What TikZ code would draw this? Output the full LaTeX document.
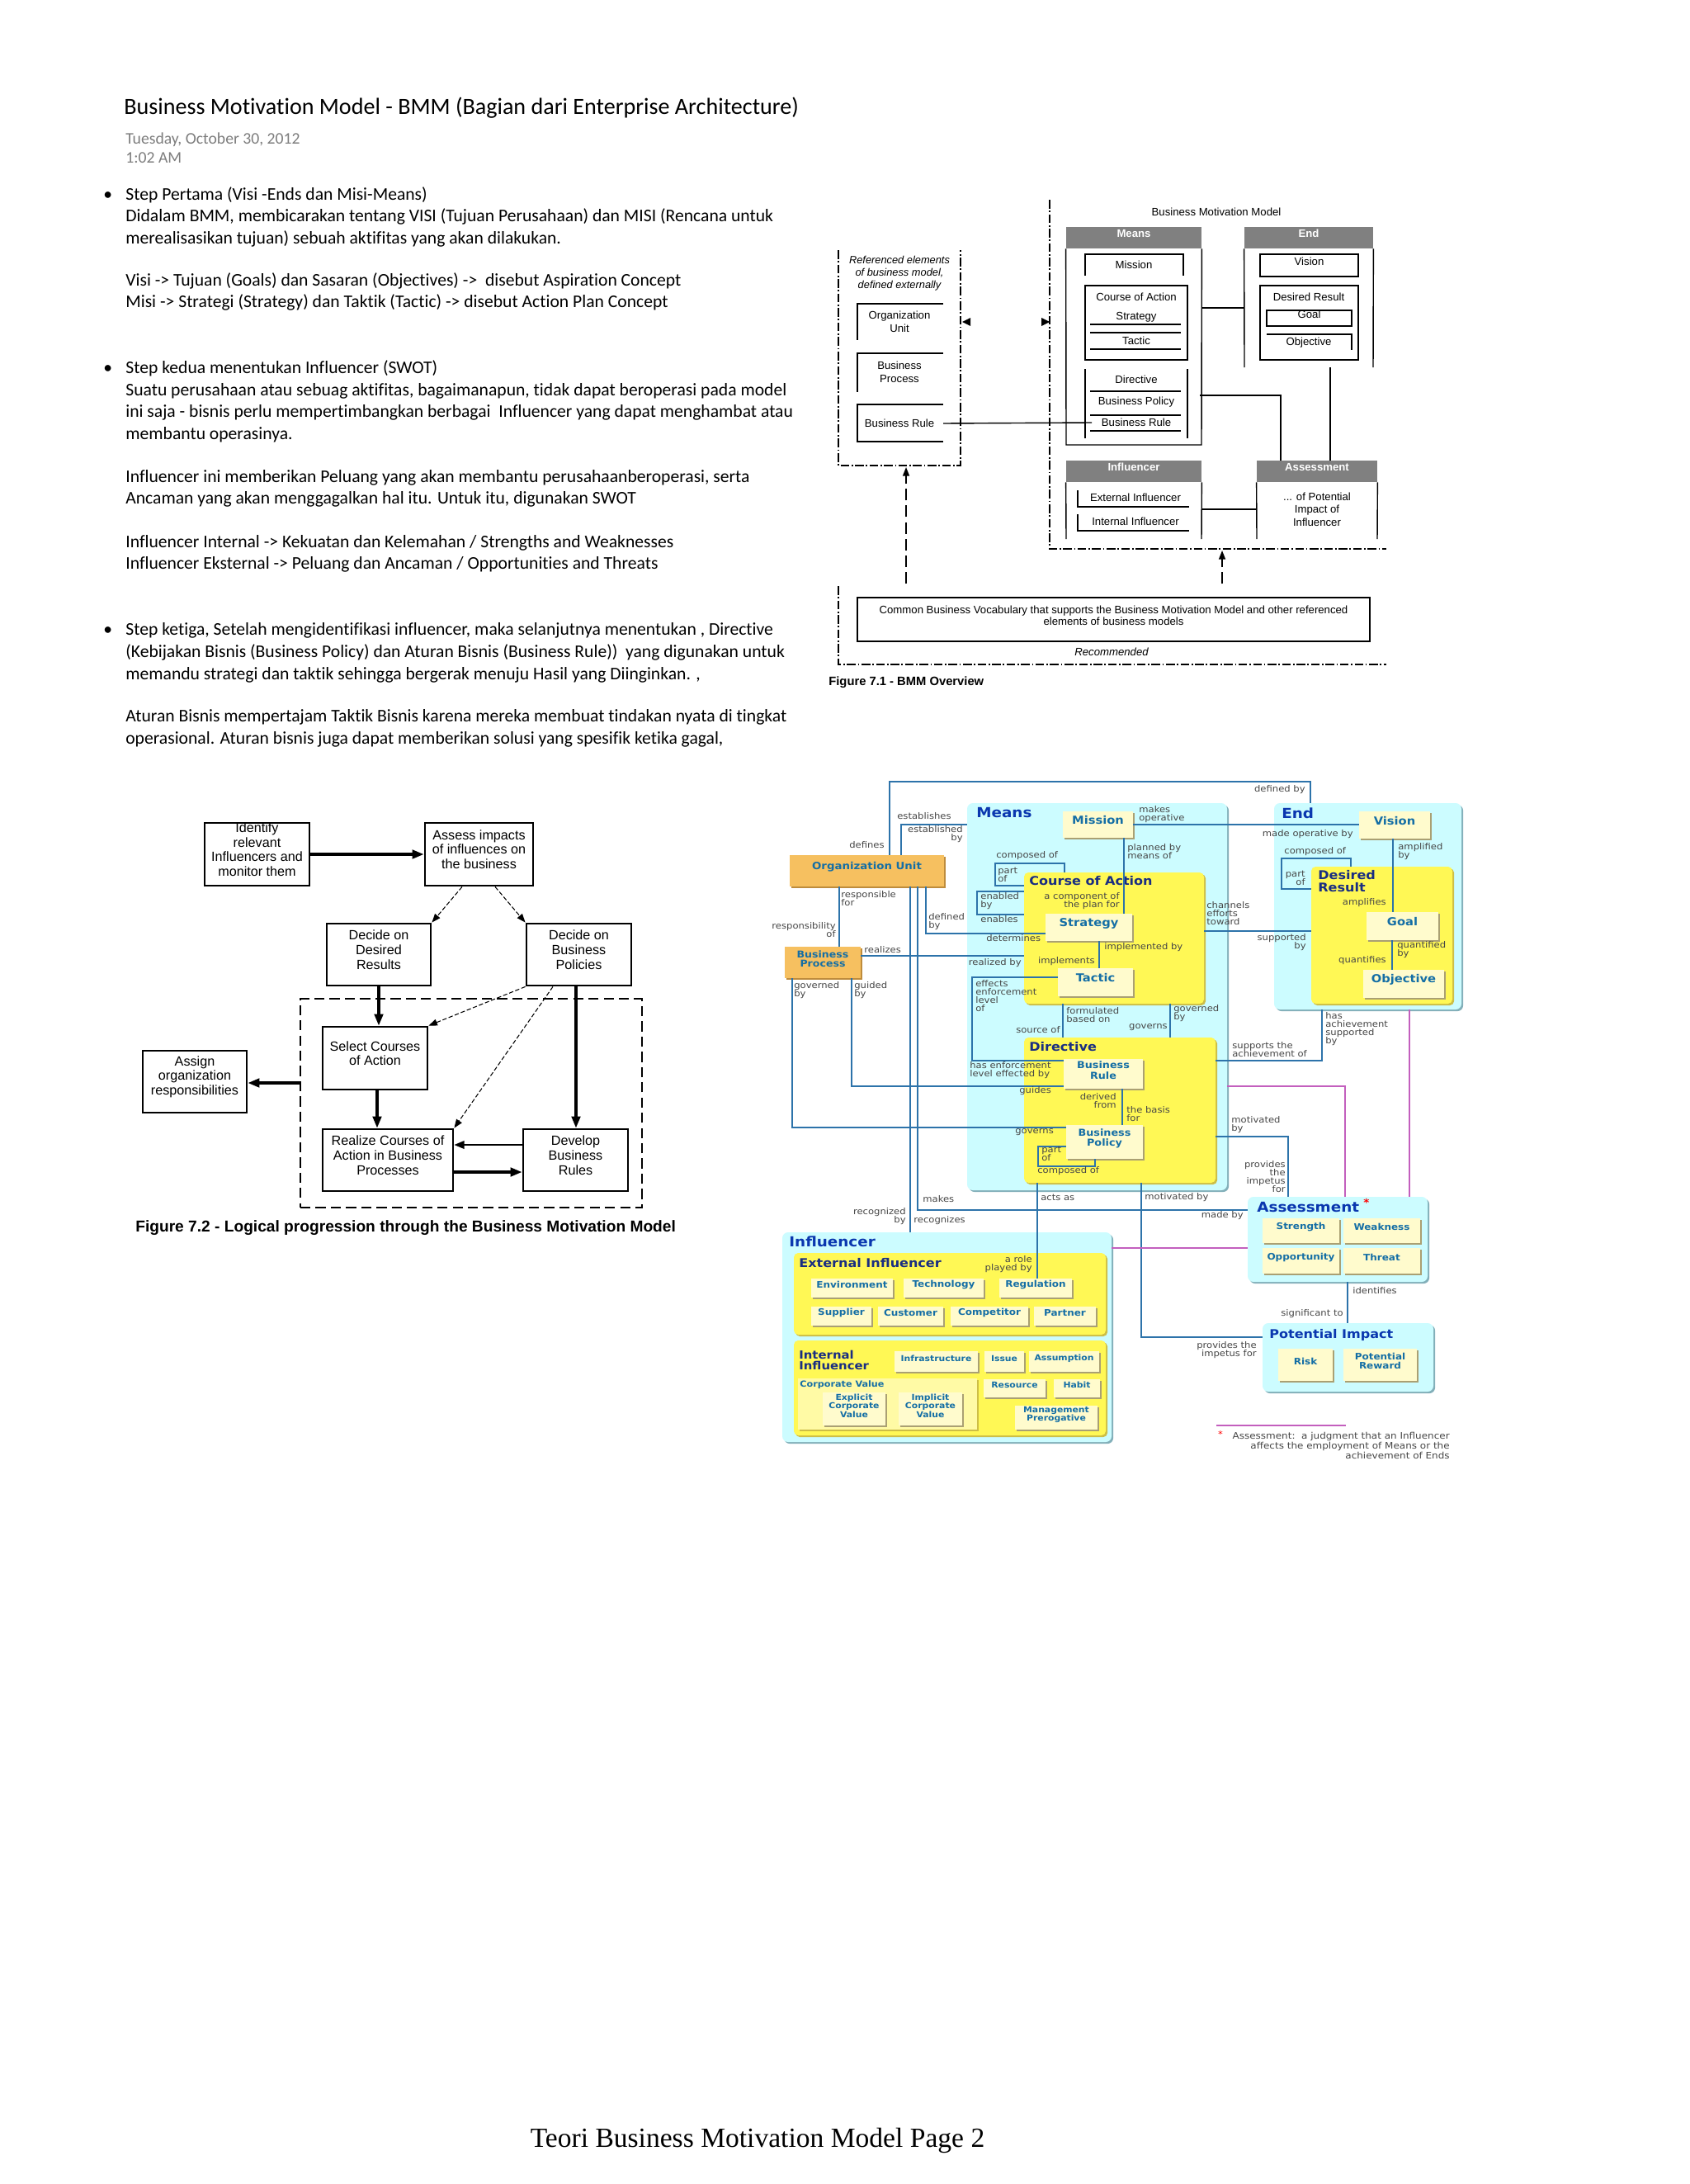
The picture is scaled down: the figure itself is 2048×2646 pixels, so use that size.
\documentclass[tikz,border=0pt]{standalone}
\usepackage{fontspec}
\setmainfont{Carlito}[Ligatures=NoCommon]
\newfontfamily\arialfont{Liberation Sans}
\newfontfamily\timesfont{Liberation Serif}
\newfontfamily\comicfont[FakeStretch=1.1]{DejaVu Sans}
\newcommand\lblfont{\comicfont\fontsize{6}{5.7}\selectfont\lineskiplimit=-5pt\relax}
\usepackage{tikz}
\usetikzlibrary{arrows.meta,positioning,fit,shadows}
\definecolor{cyanbox}{RGB}{204,252,255}
\definecolor{cyanshd}{RGB}{130,175,185}
\definecolor{yelbox}{RGB}{255,248,85}
\definecolor{yelshd}{RGB}{205,190,70}
\definecolor{crmbox}{RGB}{255,251,205}
\definecolor{crmshd}{RGB}{170,160,115}
\definecolor{cpvbox}{RGB}{255,250,165}
\definecolor{orgbox}{RGB}{246,192,96}
\definecolor{orgshd}{RGB}{190,140,60}
\definecolor{lnblue}{RGB}{45,115,170}
\definecolor{ttlblue}{RGB}{10,55,175}
\definecolor{navyt}{RGB}{25,45,130}
\definecolor{txtblue}{RGB}{20,110,165}
\definecolor{lblgray}{RGB}{70,70,70}
\definecolor{magline}{RGB}{195,95,190}
\definecolor{hdrgray}{RGB}{128,128,128}
\definecolor{dategray}{RGB}{125,125,125}
\begin{document}
\begin{tikzpicture}[x=0.2mm,y=-0.2mm,
  ln/.style={anchor=mid west,inner sep=0pt,font=\fontsize{12.3}{14}\selectfont},
  ttl/.style={ln,font=\fontsize{16}{18}\selectfont},
  dt/.style={ln,text=dategray,font=\fontsize{11.2}{13}\selectfont},
  ov/.style={inner sep=0pt,align=center,font=\arialfont\fontsize{7.5}{8.8}\selectfont},
  ohd/.style={inner sep=0pt,fill=hdrgray,text=white,font=\arialfont\bfseries\fontsize{7.5}{8}\selectfont},
  ol/.style={line width=0.8pt},
  odd/.style={line width=0.6pt,dash pattern=on 6pt off 1.5pt on 1pt off 1.5pt},
  oda/.style={line width=0.8pt,dash pattern=on 8pt off 3.5pt,-{Triangle[length=6pt,width=4.5pt]}},
  fb/.style={draw,line width=1.6pt,inner sep=0pt,align=center,font=\arialfont\fontsize{9.2}{10}\selectfont},
  fa/.style={-{Triangle[length=8pt,width=6pt]},line width=1.8pt},
  fd/.style={-{Triangle[length=6pt,width=4.5pt]},line width=0.6pt,dash pattern=on 3pt off 1.5pt},
  grp/.style={inner sep=0pt,rounded corners=4pt,fill=cyanbox,drop shadow={shadow xshift=1.2pt,shadow yshift=-1.2pt,fill=cyanshd,opacity=1}},
  ylw/.style={inner sep=0pt,rounded corners=3pt,fill=yelbox,drop shadow={shadow xshift=1.2pt,shadow yshift=-1.2pt,fill=yelshd,opacity=1}},
  crm/.style={inner sep=0pt,fill=crmbox,text=txtblue,align=left,font=\comicfont\bfseries\fontsize{7.6}{8}\selectfont,drop shadow={shadow xshift=1pt,shadow yshift=-1pt,fill=crmshd,opacity=1}},
  sml/.style={crm,font=\comicfont\bfseries\fontsize{6.2}{6.2}\selectfont},
  org/.style={crm,fill=orgbox,drop shadow={shadow xshift=1pt,shadow yshift=-1pt,fill=orgshd,opacity=1}},
  gt/.style={inner sep=0pt,anchor=west,align=left,text=ttlblue,font=\comicfont\bfseries\fontsize{9.5}{10}\selectfont},
  yt/.style={gt,text=navyt,font=\comicfont\bfseries\fontsize{8.3}{8.5}\selectfont},
  lb/.style={inner sep=0pt,anchor=west,align=left,text=lblgray,font=\lblfont},
  lr/.style={lb,anchor=east,align=right},
  cn/.style={draw=lnblue,line width=0.9pt},
  mg/.style={draw=magline,line width=0.9pt}
]
\fill[white] (0,0) rectangle (2048,2646);
\useasboundingbox (0,0) rectangle (2048,2646);

\node[ttl] (hd) at (150,134) {Business Motivation Model - BMM (Bagian dari Enterprise Architecture)};
\node[dt] (dte) at (152,170) {Tuesday, October 30, 2012};
\node[dt] (tme) at (152,193) {1:02 AM};
\node[ln] (bl1) at (125,238) {•};
\node[ln] (t1) at (152,238) {Step Pertama (Visi -Ends dan Misi-Means)};
\node[ln] (t2) at (152,264) {Didalam BMM, membicarakan tentang VISI (Tujuan Perusahaan) dan MISI (Rencana untuk};
\node[ln] (t3) at (152,291) {merealisasikan tujuan) sebuah aktifitas yang akan dilakukan.};
\node[ln] (t4) at (152,342) {Visi -> Tujuan (Goals) dan Sasaran (Objectives) ->\ \ disebut Aspiration Concept};
\node[ln] (t5) at (152,368) {Misi -> Strategi (Strategy) dan Taktik (Tactic) -> disebut Action Plan Concept};
\node[ln] (bl2) at (125,448) {•};
\node[ln] (t6) at (152,448) {Step kedua menentukan Influencer (SWOT)};
\node[ln] (t7) at (152,475) {Suatu perusahaan atau sebuag aktifitas, bagaimanapun, tidak dapat beroperasi pada model};
\node[ln] (t8) at (152,501) {ini saja - bisnis perlu mempertimbangkan berbagai\ \ Influencer yang dapat menghambat atau};
\node[ln] (t9) at (152,528) {membantu operasinya.};
\node[ln] (t10) at (152,580) {Influencer ini memberikan Peluang yang akan membantu perusahaanberoperasi, serta};
\node[ln] (t11) at (152,606) {Ancaman yang akan menggagalkan hal itu. Untuk itu, digunakan SWOT};
\node[ln] (t12) at (152,659) {Influencer Internal -> Kekuatan dan Kelemahan / Strengths and Weaknesses};
\node[ln] (t13) at (152,685) {Influencer Eksternal -> Peluang dan Ancaman / Opportunities and Threats};
\node[ln] (bl3) at (125,765) {•};
\node[ln] (t14) at (152,765) {Step ketiga, Setelah mengidentifikasi influencer, maka selanjutnya menentukan , Directive};
\node[ln] (t15) at (152,792) {(Kebijakan Bisnis (Business Policy) dan Aturan Bisnis (Business Rule))\ \ yang digunakan untuk};
\node[ln] (t16) at (152,819) {memandu strategi dan taktik sehingga bergerak menuju Hasil yang Diinginkan. ,};
\node[ln] (t17) at (152,870) {Aturan Bisnis mempertajam Taktik Bisnis karena mereka membuat tindakan nyata di tingkat};
\node[ln] (t18) at (152,897) {operasional. Aturan bisnis juga dapat memberikan solusi yang spesifik ketika gagal,};

\draw[odd] (1016,303) -- (1016,564) -- (1164,564) -- (1164,303);
\draw[odd] (1016,710) -- (1016,805) -- (1680,805);
\draw[odd] (1272,242) -- (1272,665) -- (1680,665);
\node[ov,font=\arialfont\itshape\fontsize{7.3}{8.5}\selectfont] (oref) at (1090,331) {Referenced elements\\of business model,\\defined externally};
\draw[ol] (1143,368) -- (1039,368) -- (1039,412);
\node[ov] (oou) at (1090,390) {Organization\\Unit};
\draw[ol] (1143,428) -- (1039,428) -- (1039,475);
\node[ov] (obp) at (1090,451) {Business\\Process};
\draw[ol] (1143,490) -- (1039,490) -- (1039,535) -- (1143,535);
\node[ov] (obr) at (1090,513) {Business Rule};
\fill (1166,390) -- (1176,385) -- (1176,395) -- cycle;
\fill (1272,390) -- (1262,385) -- (1262,395) -- cycle;
\node[ov] (obmm) at (1474,257) {Business Motivation Model};
\node[ohd,fit={(1292,275)(1456,301)}] (mhd) {Means};
\draw[ol] (mhd.south west) -- (1292,539) -- (1456,539) -- (mhd.south east);
\draw[ol] (1315,334) -- (1315,308) -- (1434,308) -- (1434,334);
\node[ov] (omis) at (1374,321) {Mission};
\draw[ol] (1315,346) rectangle (1439,436);
\node[ov] (ocoa) at (1377,360) {Course of Action};
\node[ov] (ostr) at (1377,384) {Strategy};
\draw[ol] (1321,393) -- (1431,393) (1321,403) -- (1431,403) (1321,423) -- (1431,423);
\node[ov] (otac) at (1377,413) {Tactic};
\draw[ol] (1315,447) -- (1315,531) (1439,447) -- (1439,531);
\node[ov] (odir) at (1377,460) {Directive};
\draw[ol] (1321,474) -- (1431,474) (1321,503) -- (1431,503) (1321,522) -- (1431,522);
\node[ov] (obpo) at (1377,487) {Business Policy};
\node[ov] (mbr) at (1377,512) {Business Rule};
\node[ohd,fit={(1508,275)(1664,301)}] (ehd) {End};
\draw[ol] (ehd.south west) -- (1508,445) (ehd.south east) -- (1664,445);
\node[ov,draw,line width=0.8pt,fit={(1527,308)(1646,335)}] (ovis) {Vision};
\draw[ol] (1527,346) rectangle (1646,436);
\node[ov] (odr) at (1586,360) {Desired Result};
\node[ov,draw,line width=0.8pt,fit={(1535,376)(1638,395)}] (ogl) {Goal};
\draw[ol] (1535,405) -- (1638,405) -- (1638,424);
\node[ov] (oobj) at (1586,415) {Objective};
\draw[ol] (mhd.south east |- 0,373) -- (ehd.south west |- 0,373);
\node[ohd,fit={(1292,558)(1456,584)}] (ihd) {Influencer};
\draw[ol] (ihd.south west) -- (1292,653) (ihd.south east) -- (1456,653);
\draw[ol] (1306,594) -- (1306,614) -- (1441,614) (1306,623) -- (1306,643) -- (1441,643);
\node[ov] (oext) at (1376,603) {External Influencer};
\node[ov] (oint) at (1376,632) {Internal Influencer};
\node[ohd,fit={(1523,558)(1669,584)}] (ahd) {Assessment};
\draw[ol] (ahd.south west) -- (1523,653) (ahd.south east) -- (1669,653);
\node[ov] (opot) at (1596,617) {... of Potential\\Impact of\\Influencer};
\draw[ol] (obr.east -| 1143,0) -- (mbr.west -| 1323,0);
\draw[ol] (1454,479) -- (1552,479) -- (ahd.north -| 1552,0);
\draw[ol] (1612,445) -- (ahd.north -| 1612,0);
\draw[ol] (1456,617) -- (ahd.south west |- 0,617);
\node[ov,draw,line width=0.8pt,fit={(1039,724)(1660,777)},font=\arialfont\fontsize{7.5}{8}\selectfont] (cbv) {Common Business Vocabulary that supports the Business Motivation Model and other referenced\\elements of business models};
\coordinate (refb) at (1098,566);
\coordinate (bmmb) at (1481,667);
\draw[oda] ([yshift=3.2mm]cbv.north -| refb) -- (refb);
\draw[oda] ([yshift=3.2mm]cbv.north -| bmmb) -- (bmmb);
\node[ov,font=\arialfont\itshape\fontsize{7.5}{8}\selectfont] (orec) at (1347,790) {Recommended};
\node[inner sep=0pt,anchor=west,font=\arialfont\bfseries\fontsize{8.4}{10}\selectfont] (cap1) at (1004,827) {Figure 7.1 - BMM Overview};

\node[fb,fit={(248,997)(375,1073)}] (idf) {Identify\\relevant\\Influencers and\\monitor them};
\node[fb,fit={(515,997)(646,1073)}] (asi) {Assess impacts\\of influences on\\the business};
\node[fb,fit={(396,1119)(522,1194)}] (ddr) {Decide on\\Desired\\Results};
\node[fb,fit={(638,1119)(765,1194)}] (dbp) {Decide on\\Business\\Policies};
\node[fb,fit={(391,1244)(518,1320)}] (sca) {Select Courses\\of Action};
\node[fb,fit={(391,1368)(549,1443)}] (rca) {Realize Courses of\\Action in Business\\Processes};
\node[fb,fit={(634,1368)(761,1443)}] (dbr) {Develop\\Business\\Rules};
\node[fb,fit={(173,1273)(299,1348)}] (aor) {Assign\\organization\\responsibilities};
\node[draw,line width=1.6pt,dash pattern=on 7pt off 3.5pt,inner sep=0pt,fit={(364,1210)(778,1463)}] (frm) {};
\draw[fa] (idf.east) -- (asi.west);
\draw[fd] (asi.south -| 560,0) -- (ddr.north east);
\draw[fd] (asi.south -| 600,0) -- (dbp.north west);
\draw[fa] (ddr.south -| 459,0) -- (sca.north -| 459,0);
\draw[fd] (dbp.south west) -- (sca.north east);
\draw[fd] (dbp.south -| 670,0) -- (rca.north east);
\draw[fa] (dbp.south -| 698,0) -- (dbr.north -| 698,0);
\draw[fa] (sca.south -| 457,0) -- (rca.north -| 457,0);
\draw[-{Triangle[length=7pt,width=5.5pt]},line width=1.1pt] (dbr.west |- 0,1387) -- (rca.east |- 0,1387);
\draw[fa] (rca.east |- 0,1420) -- (dbr.west |- 0,1420);
\draw[fa] (frm.west |- 0,1312) -- (aor.east |- 0,1312);
\node[inner sep=0pt,anchor=west,font=\arialfont\bfseries\fontsize{10.9}{12}\selectfont] (cap2) at (164,1488) {Figure 7.2 - Logical progression through the Business Motivation Model};

\node[grp,fit={(1172,973)(1487,1442)}] (means) {};
\node[grp,fit={(1544,973)(1771,1223)}] (endg) {};
\node[grp,fit={(948,1493)(1347,1747)}] (infl) {};
\node[grp,fit={(1512,1450)(1730,1553)}] (asm) {};
\node[grp,fit={(1530,1603)(1737,1686)}] (pim) {};
\node[ylw,fit={(1241,1057)(1459,1216)}] (coa) {};
\node[ylw,fit={(1241,1257)(1473,1433)}] (dir) {};
\node[ylw,fit={(1589,1050)(1760,1216)}] (dr) {};
\node[ylw,fit={(962,1518)(1340,1617)}] (exi) {};
\node[ylw,fit={(962,1624)(1340,1739)}] (ini) {};
\node[ylw,fill=cpvbox,rounded corners=0pt,fit={(967,1670)(1184,1732)}] (cpv) {};

\node[gt] (tmeans) at (1183,985) {Means};
\node[gt] (tend) at (1553,985) {End};
\node[yt] (tcoa) at (1247,1067) {Course of Action};
\node[yt] (tdir) at (1247,1268) {Directive};
\node[yt] (tdr) at (1597,1068) {Desired\\Result};
\node[gt] (tinfl) at (956,1504) {Influencer};
\node[yt] (texi) at (968,1530) {External Influencer};
\node[yt,font=\comicfont\bfseries\fontsize{7.7}{7.4}\selectfont] (tini) at (968,1648) {Internal\\Influencer};
\node[lb,text=txtblue,font=\comicfont\bfseries\fontsize{5.8}{6}\selectfont] (tcpv) at (969,1678) {Corporate Value};
\node[gt] (tasm) at (1523,1463) {Assessment};
\node[inner sep=0pt,text=red,font=\comicfont\bfseries\fontsize{7}{7}\selectfont] (star) at (1656,1457) {*};
\node[gt,font=\comicfont\bfseries\fontsize{8.3}{9}\selectfont] (tpim) at (1538,1617) {Potential Impact};

\node[org,font=\comicfont\bfseries\fontsize{6.9}{7}\selectfont,text width=32.6mm,fit={(957,1036)(1144,1074)}] (ou) {Organization Unit};
\node[org,font=\comicfont\bfseries\fontsize{6.5}{6.6}\selectfont,text width=14.4mm,fit={(951,1147)(1043,1185)}] (bp) {Business\\Process};
\node[crm,fit={(1288,983)(1373,1015)}] (mis) {Mission};
\node[crm,fit={(1267,1107)(1372,1140)}] (str) {Strategy};
\node[crm,fit={(1282,1173)(1373,1207)}] (tac) {Tactic};
\node[crm,font=\comicfont\bfseries\fontsize{6.6}{7}\selectfont,text width=15.6mm,fit={(1289,1283)(1385,1319)}] (br) {Business\\Rule};
\node[crm,font=\comicfont\bfseries\fontsize{6.6}{7}\selectfont,text width=15mm,fit={(1292,1363)(1385,1404)}] (bpo) {Business\\Policy};
\node[crm,fit={(1647,983)(1733,1016)}] (vis) {Vision};
\node[crm,fit={(1656,1105)(1743,1139)}] (goal) {Goal};
\node[crm,fit={(1652,1175)(1750,1209)}] (obj) {Objective};
\node[sml,fit={(983,1549)(1082,1572)}] (env) {Environment};
\node[sml,fit={(1095,1549)(1192,1572)}] (tec) {Technology};
\node[sml,fit={(1211,1549)(1299,1572)}] (reg) {Regulation};
\node[sml,fit={(983,1583)(1056,1606)}] (sup) {Supplier};
\node[sml,fit={(1064,1583)(1143,1606)}] (cus) {Customer};
\node[sml,fit={(1152,1583)(1246,1606)}] (cmp) {Competitor};
\node[sml,fit={(1253,1583)(1328,1606)}] (par) {Partner};
\node[sml,font=\comicfont\bfseries\fontsize{5.6}{6}\selectfont,fit={(1084,1637)(1185,1662)}] (ifr) {Infrastructure};
\node[sml,font=\comicfont\bfseries\fontsize{5.6}{6}\selectfont,fit={(1193,1637)(1241,1662)}] (iss) {Issue};
\node[sml,font=\comicfont\bfseries\fontsize{5.6}{6}\selectfont,fit={(1247,1637)(1332,1662)}] (asu) {Assumption};
\node[sml,font=\comicfont\bfseries\fontsize{5.6}{5.9}\selectfont,fit={(997,1687)(1073,1727)}] (ecv) {Explicit\\Corporate\\Value};
\node[sml,font=\comicfont\bfseries\fontsize{5.6}{5.9}\selectfont,fit={(1089,1687)(1166,1727)}] (icv) {Implicit\\Corporate\\Value};
\node[sml,font=\comicfont\bfseries\fontsize{5.6}{6}\selectfont,fit={(1192,1671)(1267,1693)}] (res) {Resource};
\node[sml,font=\comicfont\bfseries\fontsize{5.6}{6}\selectfont,fit={(1277,1671)(1333,1693)}] (hab) {Habit};
\node[sml,font=\comicfont\bfseries\fontsize{5.6}{5.6}\selectfont,fit={(1230,1703)(1330,1732)}] (mgp) {Management\\Prerogative};
\node[sml,fit={(1530,1476)(1623,1506)}] (stg) {Strength};
\node[sml,fit={(1628,1476)(1721,1506)}] (wkn) {Weakness};
\node[sml,fit={(1530,1512)(1623,1543)}] (opp) {Opportunity};
\node[sml,fit={(1628,1512)(1721,1543)}] (thr) {Threat};
\node[sml,fit={(1549,1634)(1615,1673)}] (risk) {Risk};
\node[sml,fit={(1628,1634)(1717,1673)}] (prw) {Potential\\Reward};

\draw[cn] (ou.north -| 1078,0) -- (1078,947) -- (1588,947) -- (endg.north -| 1588,0);
\draw[cn] (ou.north -| 1092,0) |- (means.west |- 1092,999);
\draw[cn] (mis.east) -- (mis.east -| vis.west);
\draw[cn] (mis.south -| 1362,0) -- (str.north -| 1362,0);
\draw[cn] (coa.north -| 1290,0) -- (1290,1046) -- (1206,1046) -- (1206,1073) -- (coa.west |- 0,1073);
\draw[cn] (coa.west |- 0,1080) -- (1184,1080) -- (1184,1108) -- (coa.west |- 0,1108);
\draw[cn] (ou.south -| 1017,0) -- (bp.north -| 1017,0);
\draw[cn] (ou.south -| 1122,0) -- (1122,1131) -- (str.west |- 0,1131);
\draw[cn] (bp.east |- 0,1158) -- (coa.west |- 0,1158);
\draw[cn] (str.south -| 1332,0) -- (tac.north -| 1332,0);
\draw[cn] (tac.west |- 0,1184) -- (1178,1184) -- (1178,1285) -- (br.west |- 0,1285);
\draw[cn] (coa.south -| 1288,0) -- (dir.north -| 1288,0);
\draw[cn] (coa.south -| 1418,0) -- (dir.north -| 1418,0);
\draw[cn] (bp.south -| 1032,0) -- (1032,1316) -- (br.west |- 0,1316);
\draw[cn] (bp.south -| 960,0) -- (960,1366) -- (bpo.west |- 0,1366);
\draw[cn] (br.south -| 1360,0) -- (bpo.north -| 1360,0);
\draw[cn] (bpo.south -| 1327,0) -- (1327,1413) -- (1258,1413) -- (1258,1389) -- (bpo.west |- 0,1389);
\draw[cn] (coa.east |- 0,1128) -- (dr.west |- 0,1128);
\draw[cn] (dr.north -| 1637,0) -- (1637,1040) -- (1553,1040) -- (1553,1077) -- (dr.west |- 0,1077);
\draw[cn] (vis.south -| 1688,0) -- (goal.north -| 1688,0);
\draw[cn] (goal.south -| 1687,0) -- (obj.north -| 1687,0);
\draw[cn] (dir.east |- 0,1285) -- (1602,1285) -- (endg.south -| 1602,0);
\draw[cn] (dir.east |- 0,1377) -- (1561,1377) -- (asm.north -| 1561,0);
\draw[cn] (ou.south -| 1103,0) -- (infl.north -| 1103,0);
\draw[cn] (ou.south -| 1112,0) -- (1112,1466) -- (asm.west |- 0,1466);
\draw[cn] (dir.south -| 1257,0) -- (reg.north -| 1257,0);
\draw[cn] (dir.south -| 1383,0) -- (1383,1620) -- (pim.west |- 0,1620);
\draw[cn] (asm.south -| 1633,0) -- (pim.north -| 1633,0);
\draw[mg] (means.east |- 0,1316) -- (1630,1316) -- (asm.north -| 1630,0);
\draw[mg] (endg.south -| 1708,0) -- (asm.north -| 1708,0);
\draw[mg] (infl.east |- 0,1512) -- (asm.west |- 0,1512);

\node[lr] (l1) at (1072,1024) {defines};
\node[lb] (l2) at (1087,989) {establishes};
\node[lr] (l3) at (1167,1011) {established\\by};
\node[lb] (l4) at (1380,987) {makes\\operative};
\node[lr] (l5) at (1640,1011) {made operative by};
\node[lr] (l6) at (1582,957) {defined by};
\node[lb] (l7) at (1366,1032) {planned by\\means of};
\node[lb] (l8) at (1207,1037) {composed of};
\node[lb] (l9) at (1209,1060) {part\\of};
\node[lr] (l10) at (1357,1092) {a component of\\the plan for};
\node[lb] (l11) at (1188,1092) {enabled\\by};
\node[lb] (l12) at (1188,1114) {enables};
\node[lb] (l13) at (1019,1089) {responsible\\for};
\node[lr] (l14) at (1013,1127) {responsibility\\of};
\node[lb] (l15) at (1125,1117) {defined\\by};
\node[lb] (l16) at (1195,1137) {determines};
\node[lb] (l17) at (1047,1151) {realizes};
\node[lr] (l18) at (1238,1167) {realized by};
\node[lb] (l19) at (1338,1148) {implemented by};
\node[lr] (l20) at (1327,1165) {implements};
\node[lb] (l21) at (1182,1207) {effects\\enforcement\\level\\of};
\node[lb] (l22) at (962,1200) {governed\\by};
\node[lb] (l23) at (1035,1200) {guided\\by};
\node[lb] (l24) at (1292,1230) {formulated\\based on};
\node[lr] (l25) at (1285,1248) {source of};
\node[lb] (l26) at (1422,1228) {governed\\by};
\node[lr] (l27) at (1415,1245) {governs};
\node[lb] (l28) at (1175,1297) {has enforcement\\level effected by};
\node[lb] (l29) at (1235,1322) {guides};
\node[lr] (l30) at (1353,1334) {derived\\from};
\node[lb] (l31) at (1365,1350) {the basis\\for};
\node[lb] (l32) at (1230,1372) {governs};
\node[lb] (l33) at (1262,1398) {part\\of};
\node[lb] (l34) at (1257,1419) {composed of};
\node[lb] (l35) at (1462,1107) {channels\\efforts\\toward};
\node[lr] (l36) at (1583,1142) {supported\\by};
\node[lb] (l37) at (1556,1032) {composed of};
\node[lr] (l38) at (1582,1064) {part\\of};
\node[lb] (l39) at (1694,1032) {amplified\\by};
\node[lr] (l40) at (1680,1094) {amplifies};
\node[lb] (l41) at (1693,1151) {quantified\\by};
\node[lr] (l42) at (1680,1164) {quantifies};
\node[lb] (l43) at (1493,1272) {supports the\\achievement of};
\node[lb] (l44) at (1606,1247) {has\\achievement\\supported\\by};
\node[lb] (l45) at (1492,1363) {motivated\\by};
\node[lr] (l46) at (1558,1426) {provides\\the\\impetus\\for};
\node[lb] (l47) at (1261,1451) {acts as};
\node[lb] (l48) at (1387,1451) {motivated by};
\node[lb] (l49) at (1118,1453) {makes};
\node[lr] (l50) at (1098,1474) {recognized\\by};
\node[lb] (l51) at (1107,1479) {recognizes};
\node[lr] (l52) at (1507,1473) {made by};
\node[lr] (l53) at (1251,1532) {a role\\played by};
\node[lb] (l54) at (1639,1564) {identifies};
\node[lr] (l55) at (1628,1592) {significant to};
\node[lr] (l56) at (1523,1636) {provides the\\impetus for};

\draw[mg,line width=0.7pt] (1474,1727) -- (1631,1727);
\node[inner sep=0pt,text=red,font=\comicfont\fontsize{6}{6}\selectfont] (fst) at (1479,1738) {*};
\node[lr,font=\comicfont\fontsize{6.2}{6.8}\selectfont] (fnt) at (1757,1751) {Assessment:\ \ a judgment that an Influencer\\affects the employment of Means or the\\achievement of Ends};

\node[inner sep=0pt,font=\timesfont\fontsize{19.1}{21}\selectfont] (ftr) at (918,2593) {Teori Business Motivation Model Page 2};
\end{tikzpicture}
\end{document}
